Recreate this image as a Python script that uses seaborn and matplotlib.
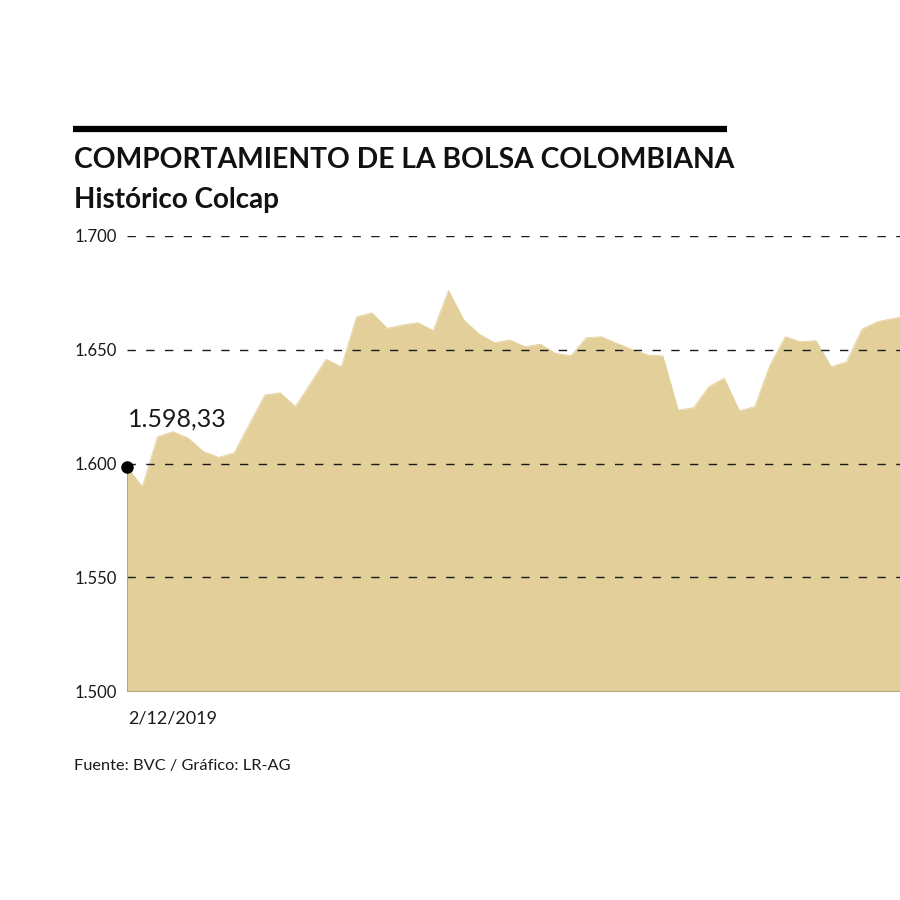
"""Histórico Colcap - comportamiento de la bolsa colombiana."""
import matplotlib
matplotlib.use("Agg")
import matplotlib.pyplot as plt
from matplotlib.ticker import FuncFormatter
import numpy as np
import pandas as pd
import seaborn as sns

# Datos (una observación por sesión desde 2/12/2019)
colcap = [
    1598.33, 1589.8, 1611.8, 1614.0, 1611.1, 1605.2, 1602.7, 1604.7, 1617.4, 1630.1,
    1631.1, 1625.0, 1635.4, 1645.8, 1642.5, 1664.5, 1666.2, 1659.4, 1660.9, 1661.9,
    1658.4, 1676.0, 1663.1, 1656.9, 1653.1, 1654.3, 1651.3, 1652.5, 1648.4, 1647.4,
    1655.3, 1655.7, 1652.8, 1650.1, 1647.7, 1647.3, 1623.5, 1624.5, 1633.8, 1637.5,
    1623.2, 1625.0, 1643.3, 1655.7, 1653.5, 1654.0, 1642.5, 1644.7, 1659.0, 1662.3,
    1663.7, 1664.8,
]
y_ticks = [1500, 1550, 1600, 1650, 1700]
first_date = "2/12/2019"
first_label = "1.598,33"

FILL = "#E3CF99"

sns.set_theme(style="white")
plt.rcParams["font.family"] = ["Lato", "DejaVu Sans"]

df = pd.DataFrame({"sesion": np.arange(len(colcap)), "valor": colcap})

fig = plt.figure(figsize=(9, 9), dpi=100)
ax = fig.add_axes([127 / 900, 1 - 691 / 900, 1 - 127 / 900, (691 - 236) / 900])

ax.fill_between(df["sesion"], 1500, df["valor"], color=FILL, lw=0, zorder=1)
sns.lineplot(data=df, x="sesion", y="valor", color=FILL, lw=0.6, ax=ax, zorder=1)

for v in y_ticks[1:]:
    ax.axhline(v, color="#1a1a1a", lw=1.0, dashes=(6, 7.5), zorder=3)

# borde izquierdo gris y punto inicial
ax.vlines(0, 1500, colcap[0], color="#9a9a9a", lw=1.2, zorder=4)
ax.plot(0, colcap[0], "o", color="black", ms=8, zorder=5, clip_on=False)
ax.text(0.05, 1619.5, first_label, fontsize=18, color="#1a1a1a", ha="left", va="center")

ax.set_xlim(0, (900 - 127) / 15.31)
ax.set_ylim(1500, 1700)
ax.set_yticks(y_ticks)
ax.yaxis.set_major_formatter(FuncFormatter(lambda v, _: f"{v:,.0f}".replace(",", ".")))
ax.tick_params(axis="y", length=0, pad=7, labelsize=12, labelcolor="#1a1a1a")
ax.set_xticks([])
ax.set_xlabel("")
ax.set_ylabel("")
for s in ["top", "right", "left"]:
    ax.spines[s].set_visible(False)
ax.spines["bottom"].set_color("#b8a878")
ax.spines["bottom"].set_linewidth(0.8)

# Encabezado
fig.add_artist(plt.Line2D([73 / 900, 727 / 900], [1 - 129 / 900] * 2, color="black",
                          lw=4.5, solid_capstyle="butt"))
fig.text(74 / 900, 1 - 160 / 900, "COMPORTAMIENTO DE LA BOLSA COLOMBIANA",
         fontsize=20.3, fontweight="bold", color="#111111", va="center", ha="left")
fig.text(74 / 900, 1 - 200 / 900, "Histórico Colcap",
         fontsize=20, fontweight="bold", color="#111111", va="center", ha="left")

fig.text(128 / 900, 1 - 718 / 900, first_date, fontsize=13, color="#1a1a1a", va="center", ha="left")
fig.text(74 / 900, 1 - 766 / 900, "Fuente: BVC / Gráfico: LR-AG",
         fontsize=11.8, color="#1a1a1a", va="center", ha="left")

fig.savefig("out.png", dpi=100)
plt.close(fig)
